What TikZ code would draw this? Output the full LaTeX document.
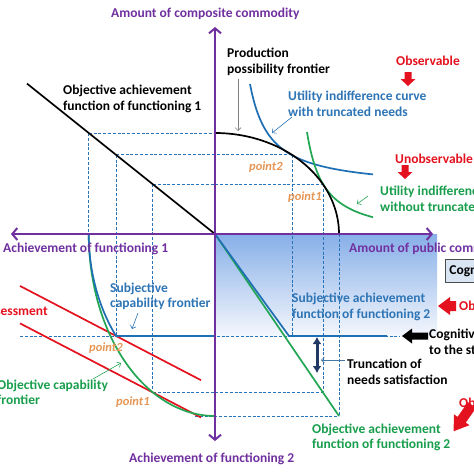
\documentclass[tikz,border=0pt]{standalone}
\usepackage{fontspec}
\setmainfont{Carlito}
\usetikzlibrary{arrows.meta}
\definecolor{axpurple}{RGB}{112,48,160}
\definecolor{cblue}{RGB}{31,111,180}
\definecolor{tblue}{RGB}{46,117,182}
\definecolor{cgreen}{RGB}{34,166,84}
\definecolor{tgreen}{RGB}{24,158,76}
\definecolor{cred}{RGB}{228,18,30}
\definecolor{corange}{RGB}{230,150,85}
\definecolor{cnavy}{RGB}{31,56,100}
\definecolor{shadetop}{RGB}{135,175,232}
\definecolor{shadebot}{RGB}{244,247,253}
\definecolor{boxfill}{RGB}{218,229,243}
\definecolor{guidecol}{RGB}{40,115,185}
\newcommand{\myblkarrow}[8]{\fill[#8,shift={(#1,#2)},rotate=#3] (0,-#5) -- ({#4-#7},-#5) -- ({#4-#7},-#6) -- (#4,0) -- ({#4-#7},#6) -- ({#4-#7},#5) -- (0,#5) -- cycle;}
\begin{document}
\begin{tikzpicture}[x=1pt,y=-1pt,
  lbl/.style={anchor=base west,inner sep=0pt,font=\fontsize{13.5}{16}\selectfont\bfseries},
  ptlbl/.style={anchor=base west,inner sep=0pt,font=\fontsize{12.5}{15}\selectfont\bfseries\itshape,text=corange},
  guide/.style={guidecol,dash pattern=on 3pt off 1.8pt,line width=1pt},
  curve/.style={line width=1.7pt},
  axis/.style={axpurple,line width=2pt,{Straight Barb[length=5pt,width=12pt]}-{Straight Barb[length=5pt,width=12pt]}},
  pointer/.style={line width=0.6pt,-{Straight Barb[length=3pt,width=6pt]}}
]
\useasboundingbox (0,0) rectangle (474,474);
\fill[white] (0,0) rectangle (474,474);

% key coordinates
\coordinate (O) at (215,234);
\coordinate (Ytop) at (215,27);
\coordinate (Ybot) at (215,441);
\coordinate (Xl) at (11,234);
\coordinate (Xr) at (433,234);
\coordinate (P0) at (215,133);
\coordinate (P2) at (292,154.83);
\coordinate (P1) at (323,184.38);
\coordinate (A0) at (88.75,133);
\coordinate (A2) at (116.04,154.83);
\coordinate (A1) at (152.97,184.38);
\coordinate (L0) at (88.75,234);
\coordinate (Q2) at (116.04,336);
\coordinate (Q1) at (152.97,392.52);
\coordinate (R2) at (292,336);
\coordinate (R1) at (323,392.52);
\coordinate (X0) at (339,234);
\coordinate (R0) at (339,416);
\coordinate (T0) at (195,416);
\coordinate (S0) at (20,336);
\coordinate (S1) at (400,336);
\coordinate (K) at (27,83.6);
\coordinate (B2) at (289,336);
\coordinate (B3) at (387,336);
\coordinate (Y336) at (215,336);

% shaded region
\shade[top color=shadetop,bottom color=shadebot] (215,234) rectangle (437,336);

% dashed guides
\draw[guide] (A0) -- (P0);
\draw[guide] (A0) -- (L0);
\draw[guide] (A2) -- (P2);
\draw[guide] (A2) -- (Q2);
\draw[guide] (A1) -- (P1);
\draw[guide] (A1) -- (Q1);
\draw[guide] (P2) -- (R2);
\draw[guide] (P1) -- (R1);
\draw[guide] (Q1) -- (R1);
\draw[guide] (S0) -- (S1);
\draw[guide] (X0) -- (R0);
\draw[guide] (T0) -- (R0);

% red lines
\coordinate (r1a) at (20,285.95);
\coordinate (r1b) at (201,380.18);
\coordinate (r2a) at (20,323.36);
\coordinate (r2b) at (201,417.48);
\draw[curve,cred] (r1a) -- (r1b);
\draw[curve,cred] (r2a) -- (r2b);

% lower-left frontiers
\draw[curve,cgreen] plot[domain=0:90,samples=70,smooth] ({215-126.25*cos(\x)},{234+182*sin(\x)});
\draw[curve,cblue] plot[domain=0:38.39,samples=40,smooth] ({215-126.25*cos(\x)},{234+164.26*sin(\x)}) -- (Y336);

% lower-right achievement functions
\draw[curve,cgreen] (O) -- (R0);
\draw[curve,cblue] (O) -- (B2) -- (B3);

% upper-right curves
\draw[curve,cblue] plot[domain=250:373,samples=80,smooth] (\x,{189.1-2102/(\x-230)});
\draw[curve,cgreen] plot[domain=307:373,samples=80,smooth] (\x,{239.2-1823/(\x-290)});
\draw[curve,black] plot[domain=0:90,samples=80,smooth] ({215+124*sin(\x)},{234-101*cos(\x)});

% objective achievement function 1
\draw[curve,black] (K) -- (O);

% axes
\draw[axis] (Xl) -- (Xr);
\draw[axis] (Ytop) -- (Ybot);

% axis labels
\node[lbl,text=axpurple] (axtop) at (111,17) {Amount of composite commodity};
\node[lbl,text=axpurple] (axleft) at (3,252) {Achievement of functioning 1};
\node[lbl,text=axpurple] (axright) at (349,252) {Amount of public commodity};
\node[lbl,text=axpurple] (axbot) at (129,462) {Achievement of functioning 2};

% black labels
\node[lbl] (ppf1) at (227,57) {Production};
\node[lbl] (ppf2) at (227,73) {possibility frontier};
\node[lbl] (oaf1a) at (63,94) {Objective achievement};
\node[lbl] (oaf1b) at (63,110) {function of functioning 1};
\node[lbl] (trn1) at (347,368) {Truncation of};
\node[lbl] (trn2) at (347,384) {needs satisfaction};
\node[lbl] (cog1) at (429,338) {Cognitive};
\node[lbl] (cog2) at (429,354) {to the state};

% blue labels
\node[lbl,text=tblue] (uic1) at (288,100) {Utility indifference curve};
\node[lbl,text=tblue] (uic2) at (288,116) {with truncated needs};
\node[lbl,text=tblue] (scf1) at (110,292) {Subjective};
\node[lbl,text=tblue] (scf2) at (110,307) {capability frontier};
\node[lbl,text=tblue] (saf1) at (292,302) {Subjective achievement};
\node[lbl,text=tblue] (saf2) at (292,318) {function of functioning 2};

% green labels
\node[lbl,text=tgreen] (uin1) at (380,195) {Utility indifference curve};
\node[lbl,text=tgreen] (uin2) at (380,211) {without truncated needs};
\node[lbl,text=tgreen] (ocf1) at (-3,389) {Objective capability};
\node[lbl,text=tgreen] (ocf2) at (-3,404) {frontier};
\node[lbl,text=tgreen] (oaf2a) at (312,433) {Objective achievement};
\node[lbl,text=tgreen] (oaf2b) at (312,448) {function of functioning 2};

% red labels
\node[lbl,text=cred] (obs1) at (396,65) {Observable};
\node[lbl,text=cred] (unobs) at (395,163) {Unobservable};
\node[lbl,text=cred] (obs2) at (459,310) {Observable};
\node[lbl,text=cred] (obs3) at (459,407) {Observable};
\node[lbl,text=cred,anchor=base east] (assm) at (48,315) {Assessment};

% point labels
\node[ptlbl] (up2) at (249,170) {point2};
\node[ptlbl] (up1) at (288,200) {point1};
\node[ptlbl] (lp2) at (89,351) {point2};
\node[ptlbl] (lp1) at (116,405) {point1};

% cognitive box
\node[lbl,anchor=west,draw=black!70,line width=0.8pt,fill=boxfill,inner xsep=4pt,minimum height=23pt,text width=60pt] (cogbox) at (445,270.5) {Cognitive};

% pointers
\coordinate (g1) at (238,79);
\coordinate (g2) at (238,131);
\draw[pointer,gray] (g1) -- (g2);
\coordinate (b1) at (292,117);
\coordinate (b2) at (272,133);
\draw[pointer,tblue] (b1) -- (b2);
\coordinate (n1) at (368,196);
\coordinate (n2) at (357,204);
\draw[pointer,cgreen] (n1) -- (n2);
\coordinate (s1) at (138,313);
\coordinate (s2) at (132,329);
\draw[pointer,tblue] (s1) -- (s2);
\coordinate (c1) at (93,379);
\coordinate (c2) at (121,363);
\draw[pointer,cgreen] (c1) -- (c2);
\coordinate (t1) at (345,360);
\coordinate (t2) at (321,360);
\draw[pointer,tblue!70!gray] (t1) -- (t2);

% truncation double arrow
\coordinate (d1) at (317,337);
\coordinate (d2) at (317,373);
\draw[cnavy,line width=3pt,{Latex[length=7pt,width=9pt]}-{Latex[length=7pt,width=9pt]}] (d1) -- (d2);

% block arrows
\myblkarrow{408}{72}{-90}{14}{3.5}{7.5}{7}{cred}
\myblkarrow{405}{165}{-90}{14}{3.5}{7.5}{7}{cred}
\myblkarrow{456}{306}{180}{18}{5}{9}{12}{cred}
\myblkarrow{428}{336}{180}{26}{3.5}{7.5}{10}{black}
\myblkarrow{472}{405}{235}{32}{5}{9.5}{14}{cred}
\end{tikzpicture}
\end{document}
